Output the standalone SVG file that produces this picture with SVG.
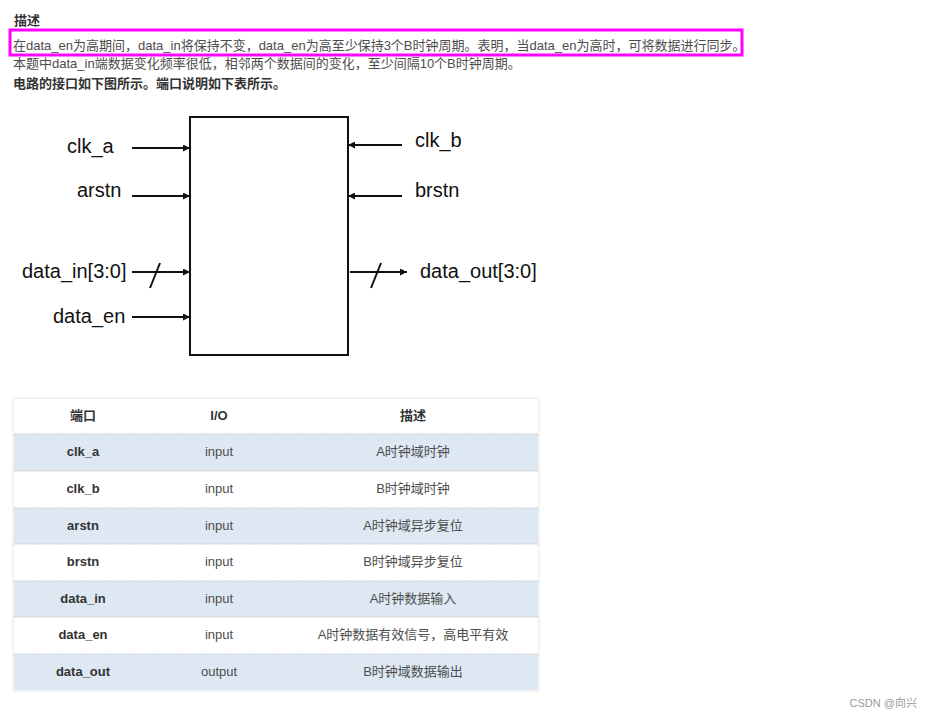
<svg xmlns="http://www.w3.org/2000/svg" width="933" height="718" viewBox="0 0 933 718">
<style>
.t{font-family:"Liberation Sans","Noto Sans CJK SC",sans-serif;font-size:13px;fill:#4d4d4d}
.b{font-weight:bold;fill:#333}
.p{font-family:"Liberation Sans","Noto Sans CJK SC",sans-serif;font-size:20px;fill:#111}
.c{text-anchor:middle}
.w{stroke:#111;stroke-width:2;fill:none}
.r{fill:#dde8f3}
.d{stroke:#ccc;stroke-dasharray:2 1}
</style>
<defs><marker id="a" viewBox="0 0 10 10" refX="10" refY="5" markerWidth="7" markerHeight="7" markerUnits="userSpaceOnUse" orient="auto"><path d="M0,0L10,5L0,10z" fill="#111"/></marker></defs>
<rect width="933" height="718" fill="#fff"/>
<text class="t b" x="14" y="25">描述</text>
<rect x="10" y="30" width="732" height="25" fill="none" stroke="#f0f" stroke-width="3"/>
<text class="t" x="13" y="50">在data_en为高期间，data_in将保持不变，data_en为高至少保持3个B时钟周期。表明，当data_en为高时，可将数据进行同步。</text>
<text class="t" x="13" y="68">本题中data_in端数据变化频率很低，相邻两个数据间的变化，至少间隔10个B时钟周期。</text>
<text class="t b" x="13" y="88">电路的接口如下图所示。端口说明如下表所示。</text>
<g id="block"><rect x="190" y="117" width="158" height="238" fill="none" stroke="#111" stroke-width="2"/></g>
<g id="labels">
<text class="p" x="67" y="153">clk_a</text>
<text class="p" x="77" y="197">arstn</text>
<text class="p" x="22" y="278">data_in[3:0]</text>
<text class="p" x="53" y="323">data_en</text>
<text class="p" x="415" y="147">clk_b</text>
<text class="p" x="415" y="197">brstn</text>
<text class="p" x="420" y="278">data_out[3:0]</text>
</g>
<g id="connectors" class="w">
<line x1="132" y1="148" x2="190" y2="148" marker-end="url(#a)"/>
<line x1="132" y1="196" x2="190" y2="196" marker-end="url(#a)"/>
<line x1="132" y1="272" x2="190" y2="272" marker-end="url(#a)"/>
<line x1="150" y1="288" x2="160" y2="263"/>
<line x1="132" y1="317" x2="190" y2="317" marker-end="url(#a)"/>
<line x1="402" y1="145" x2="348" y2="145" marker-end="url(#a)"/>
<line x1="402" y1="196" x2="348" y2="196" marker-end="url(#a)"/>
<line x1="350" y1="272" x2="407" y2="272" marker-end="url(#a)"/>
<line x1="371" y1="288" x2="381" y2="263"/>
</g>
<g id="table">
<rect x="13" y="398" width="526" height="293" fill="#fff" stroke="#e6e6e6"/>
<rect class="r" x="14" y="434" width="524" height="37"/>
<rect class="r" x="14" y="508" width="524" height="36"/>
<rect class="r" x="14" y="581" width="524" height="36"/>
<rect class="r" x="14" y="654" width="524" height="36"/>
<g class="d"><line x1="14" y1="434" x2="538" y2="434"/><line x1="14" y1="471" x2="538" y2="471"/><line x1="14" y1="508" x2="538" y2="508"/><line x1="14" y1="544" x2="538" y2="544"/><line x1="14" y1="581" x2="538" y2="581"/><line x1="14" y1="617" x2="538" y2="617"/><line x1="14" y1="654" x2="538" y2="654"/></g>
<g class="t c">
<text class="b" x="83" y="420">端口</text><text class="b" x="219" y="420">I/O</text><text class="b" x="413" y="420">描述</text>
<text class="b" x="83" y="456">clk_a</text><text x="219" y="456">input</text><text x="413" y="456">A时钟域时钟</text>
<text class="b" x="83" y="493">clk_b</text><text x="219" y="493">input</text><text x="413" y="493">B时钟域时钟</text>
<text class="b" x="83" y="530">arstn</text><text x="219" y="530">input</text><text x="413" y="530">A时钟域异步复位</text>
<text class="b" x="83" y="566">brstn</text><text x="219" y="566">input</text><text x="413" y="566">B时钟域异步复位</text>
<text class="b" x="83" y="603">data_in</text><text x="219" y="603">input</text><text x="413" y="603">A时钟数据输入</text>
<text class="b" x="83" y="639">data_en</text><text x="219" y="639">input</text><text x="413" y="639">A时钟数据有效信号，高电平有效</text>
<text class="b" x="83" y="676">data_out</text><text x="219" y="676">output</text><text x="413" y="676">B时钟域数据输出</text>
</g>
</g>
<text class="t" x="917" y="707" style="font-size:11px;fill:#999;text-anchor:end">CSDN @向兴</text>
</svg>
